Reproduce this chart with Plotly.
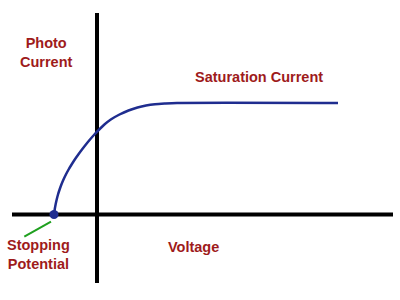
import plotly.graph_objects as go

# Curve: voltage (arbitrary units) vs photo current (arbitrary units)
voltage = [-4.3, -4.23, -4.14, -4.03, -3.9, -3.74, -3.56, -3.35, -3.11, -2.84,
           -2.54, -2.22, -1.87, -1.5, -1.11, -0.7, -0.26, 0.22, 0.74, 1.38,
           2.25, 3.15, 4.05, 4.9, 5.8, 6.8, 8.0, 24.1]
current = [0.0, 0.5, 1.0, 1.5, 2.0, 2.5, 3.0, 3.5, 4.0, 4.5,
           5.0, 5.5, 6.0, 6.5, 7.0, 7.5, 8.0, 8.5, 9.0, 9.5,
           10.0, 10.4, 10.7, 10.9, 11.03, 11.1, 11.15, 11.15]

stop_v = [-4.3]
stop_i = [0.0]

x_axis_v = [-8.5, 29.6]
x_axis_i = [0.0, 0.0]
y_axis_v = [0.0, 0.0]
y_axis_i = [-6.85, 20.15]

leader_v = [-4.6, -7.27]
leader_i = [-0.72, -2.22]

labels = ["Photo<br>Current", "Saturation Current", "Voltage", "Stopping<br>Potential"]
label_v = [-5.1, 16.15, 9.6, -5.85]
label_i = [16.25, 13.75, -3.25, -4.0]

RED = "#9e1b1b"
BLUE = "#1f2d8f"
FONT = "Liberation Sans, Arial, sans-serif"

fig = go.Figure()
fig.add_trace(go.Scatter(x=x_axis_v, y=x_axis_i, mode="lines",
                         line=dict(color="black", width=4), hoverinfo="skip"))
fig.add_trace(go.Scatter(x=y_axis_v, y=y_axis_i, mode="lines",
                         line=dict(color="black", width=4), hoverinfo="skip"))
fig.add_trace(go.Scatter(x=leader_v, y=leader_i, mode="lines",
                         line=dict(color="#1fa01f", width=2), hoverinfo="skip"))
fig.add_trace(go.Scatter(x=voltage, y=current, mode="lines",
                         line=dict(color=BLUE, width=2.5, shape="spline", smoothing=0.8)))
fig.add_trace(go.Scatter(x=stop_v, y=stop_i, mode="markers",
                         marker=dict(color=BLUE, size=9)))

for t, v, i in zip(labels, label_v, label_i):
    fig.add_annotation(x=v, y=i, text="<b>" + t + "</b>", showarrow=False,
                       xanchor="center", yanchor="middle",
                       font=dict(family=FONT, size=14.5, color=RED))

fig.update_layout(
    width=400, height=300,
    margin=dict(l=0, r=0, t=0, b=0),
    paper_bgcolor="white", plot_bgcolor="white",
    showlegend=False,
    xaxis=dict(range=[-9.7, 30.3], visible=False, fixedrange=True),
    yaxis=dict(range=[-8.55, 21.45], visible=False, fixedrange=True),
)

fig.write_html("out.html")
